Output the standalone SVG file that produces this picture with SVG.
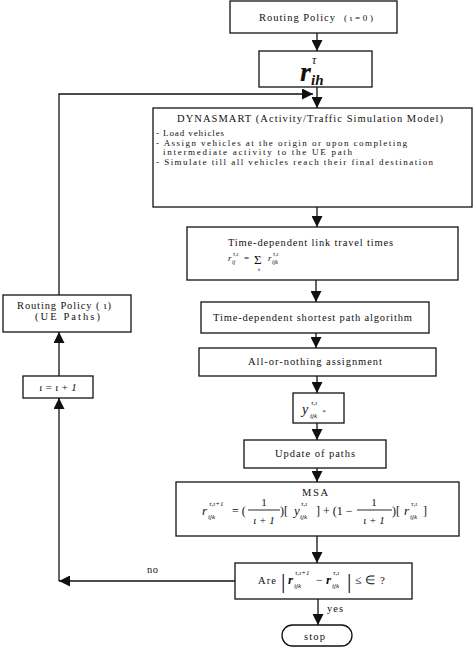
<svg xmlns="http://www.w3.org/2000/svg" width="474" height="647" viewBox="0 0 474 647">
<style>
.box{fill:#fff;stroke:#111;stroke-width:1.3}
.t{font-family:"Liberation Serif","Times New Roman",serif;font-size:10.5px;fill:#111}
.b{font-family:"Liberation Serif","Times New Roman",serif;font-size:9px;fill:#111;letter-spacing:0.9px}
.m{font-family:"Liberation Serif","Times New Roman",serif;font-style:italic;fill:#111}
.s{font-family:"Liberation Serif","Times New Roman",serif;font-style:italic;font-size:6px;fill:#111}
.c{stroke:#111;stroke-width:1.3;fill:none}
.fb{stroke:#111;stroke-width:0.9}
</style>
<defs>
<marker id="ah" markerWidth="11" markerHeight="11" refX="11" refY="5.5" orient="auto" markerUnits="userSpaceOnUse"><path d="M0,0 L11,5.5 L0,11 z" fill="#111"/></marker>
</defs>
<rect width="474" height="647" fill="#fff"/>

<g id="connectors">
<line class="c" x1="317" y1="33" x2="317" y2="51" marker-end="url(#ah)"/>
<line class="c" x1="317" y1="87" x2="317" y2="108" marker-end="url(#ah)"/>
<polyline class="c" points="59,295 59,94 313,94" marker-end="url(#ah)"/>
<line class="c" x1="317" y1="207" x2="317" y2="227" marker-end="url(#ah)"/>
<line class="c" x1="316" y1="280" x2="316" y2="302" marker-end="url(#ah)"/>
<line class="c" x1="316" y1="333" x2="316" y2="348" marker-end="url(#ah)"/>
<line class="c" x1="317" y1="376" x2="317" y2="393" marker-end="url(#ah)"/>
<line class="c" x1="317" y1="423" x2="317" y2="440" marker-end="url(#ah)"/>
<line class="c" x1="317" y1="468" x2="317" y2="482" marker-end="url(#ah)"/>
<line class="c" x1="317" y1="536" x2="317" y2="563" marker-end="url(#ah)"/>
<line class="c" x1="318" y1="599" x2="318" y2="625" marker-end="url(#ah)"/>
<line class="c" x1="235" y1="581" x2="59" y2="581" marker-end="url(#ah)"/>
<line class="c" x1="59" y1="581" x2="59" y2="398" marker-end="url(#ah)"/>
<line class="c" x1="59" y1="376" x2="59" y2="332" marker-end="url(#ah)"/>
<text class="t" x="147" y="573" textLength="11">no</text>
<text class="t" x="327" y="612" textLength="16">yes</text>
</g>

<g id="n-routing0">
<rect class="box" x="230" y="1" width="167" height="32"/>
<text class="t" x="259" y="21" textLength="76">Routing Policy</text>
<text class="t" x="344" y="21" style="font-size:9px" textLength="29">(ι=0)</text>
</g>

<g id="n-rih">
<rect class="box" x="259" y="51" width="113" height="36"/>
<text class="m" x="300" y="81" style="font-size:28px;font-weight:bold">r</text>
<text class="m" x="312" y="64" style="font-size:12px">τ</text>
<text class="m" x="311" y="85" style="font-size:15px;font-weight:bold">ih</text>
</g>

<g id="n-dynasmart">
<rect class="box" x="153" y="108" width="319" height="99"/>
<text class="t" x="177" y="122" textLength="266">DYNASMART (Activity/Traffic Simulation Model)</text>
<text class="b" x="156" y="136">- Load vehicles</text>
<text class="b" x="156" y="146" textLength="252">- Assign vehicles at the origin or upon completing</text>
<text class="b" x="163" y="155" textLength="190">intermediate activity to the UE path</text>
<text class="b" x="156" y="165" textLength="278">- Simulate till all vehicles reach their final destination</text>
</g>

<g id="n-linktimes">
<rect class="box" x="187" y="227" width="271" height="53"/>
<text class="t" x="228" y="246" textLength="165">Time-dependent link travel times</text>
<text class="m" x="228" y="261" style="font-size:9px">r</text>
<text class="s" x="232" y="264">ij</text>
<text class="s" x="233" y="256">τ,ι</text>
<text class="t" x="244" y="261" style="font-size:9px">=</text>
<text class="t" x="254" y="264" style="font-size:13px">Σ</text>
<text class="s" x="258" y="271" style="font-size:5px">k</text>
<text class="m" x="268" y="261" style="font-size:9px">r</text>
<text class="s" x="272" y="264">ijk</text>
<text class="s" x="273" y="256">τ,ι</text>
</g>

<g id="n-shortest">
<rect class="box" x="201" y="302" width="228" height="31"/>
<text class="t" x="213" y="321" textLength="199">Time-dependent shortest path algorithm</text>
</g>

<g id="n-aon">
<rect class="box" x="199" y="348" width="237" height="28"/>
<text class="t" x="248" y="365" textLength="134">All-or-nothing assignment</text>
</g>

<g id="n-y">
<rect class="box" x="293" y="393" width="51" height="30"/>
<text class="m" x="302" y="414" style="font-size:14px">y</text>
<text class="s" x="311" y="405" style="font-size:7px">τ,ι</text>
<text class="s" x="310" y="418" style="font-size:7px">ijk</text>
<text class="s" x="322" y="414" style="font-size:7px">*</text>
</g>

<g id="n-update">
<rect class="box" x="244" y="440" width="142" height="28"/>
<text class="t" x="275" y="457" textLength="80">Update of paths</text>
</g>

<g id="n-msa">
<rect class="box" x="176" y="482" width="283" height="54"/>
<text class="t" x="302" y="496" textLength="26">MSA</text>
<text class="m" x="202" y="515" style="font-size:13px">r</text>
<text class="s" x="209" y="506" style="font-size:7px">τ,ι+1</text>
<text class="s" x="208" y="519" style="font-size:7px">ijk</text>
<text class="t" x="232" y="515" style="font-size:12px">= (</text>
<line class="fb" x1="248" y1="510" x2="280" y2="510"/>
<text class="t" x="264" y="506" style="font-size:11px" text-anchor="middle">1</text>
<text class="m" x="264" y="524" style="font-size:11px" text-anchor="middle">ι + 1</text>
<text class="t" x="280" y="515" style="font-size:12px">)[</text>
<text class="m" x="294" y="515" style="font-size:13px">y</text>
<text class="s" x="301" y="506" style="font-size:7px">τ,ι</text>
<text class="s" x="300" y="519" style="font-size:7px">ijk</text>
<text class="t" x="316" y="515" style="font-size:12px">] + (1 −</text>
<line class="fb" x1="357" y1="510" x2="392" y2="510"/>
<text class="t" x="374" y="506" style="font-size:11px" text-anchor="middle">1</text>
<text class="m" x="374" y="524" style="font-size:11px" text-anchor="middle">ι + 1</text>
<text class="t" x="392" y="515" style="font-size:12px">)[</text>
<text class="m" x="404" y="515" style="font-size:13px">r</text>
<text class="s" x="411" y="506" style="font-size:7px">τ,ι</text>
<text class="s" x="410" y="519" style="font-size:7px">ijk</text>
<text class="t" x="423" y="515" style="font-size:12px">]</text>
</g>

<g id="n-check">
<rect class="box" x="235" y="563" width="177" height="36"/>
<text class="t" x="258" y="584" textLength="18">Are</text>
<text class="t" x="281" y="588" style="font-size:22px">|</text>
<text class="m" x="288" y="584" style="font-size:13px;font-weight:bold">r</text>
<text class="s" x="295" y="575" style="font-size:7px">τ,ι+1</text>
<text class="s" x="294" y="588" style="font-size:7px">ijk</text>
<text class="t" x="316" y="584" style="font-size:12px">−</text>
<text class="m" x="326" y="584" style="font-size:13px;font-weight:bold">r</text>
<text class="s" x="333" y="575" style="font-size:7px">τ,ι</text>
<text class="s" x="332" y="588" style="font-size:7px">ijk</text>
<text class="t" x="347" y="588" style="font-size:22px">|</text>
<text class="t" x="355" y="584" style="font-size:12px">≤ ∈</text>
<text class="t" x="380" y="584" style="font-size:11px">?</text>
</g>

<g id="n-stop">
<rect class="box" x="282" y="625" width="70" height="21" rx="10.5"/>
<text class="t" x="304" y="640" textLength="21">stop</text>
</g>

<g id="n-routing-iter">
<rect class="box" x="3" y="295" width="128" height="37"/>
<text class="t" x="17" y="309" textLength="94">Routing Policy ( ι)</text>
<text class="t" x="35" y="320" textLength="65">(UE Paths)</text>
</g>

<g id="n-iter">
<rect class="box" x="23" y="376" width="70" height="22"/>
<text class="m" x="58" y="391" style="font-size:11px" text-anchor="middle">ι = ι + 1</text>
</g>
</svg>
